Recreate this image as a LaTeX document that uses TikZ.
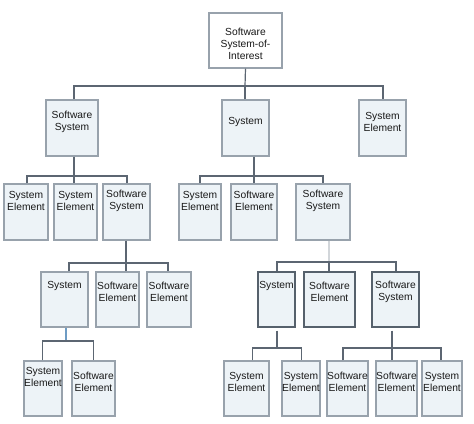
\documentclass[tikz,border=0pt]{standalone}
\usepackage{fontspec}
\setmainfont{Liberation Sans}
\definecolor{boxline}{HTML}{98A2AC}
\definecolor{darkline}{HTML}{56616C}
\definecolor{boxfill}{HTML}{EDF3F7}
\definecolor{conn}{HTML}{5C6672}
\definecolor{faint}{HTML}{D2D6DA}
\definecolor{bluish}{HTML}{6E9CC4}
\begin{document}
\begin{tikzpicture}[x=0.75pt,y=-0.75pt,
  box/.style={draw=boxline,line width=0.8pt,fill=boxfill,rectangle,inner sep=0pt},
  rootbox/.style={box,fill=white},
  darkbox/.style={box,draw=darkline,line width=0.9pt},
  txt/.style={font=\fontsize{7.7pt}{9pt}\selectfont,align=center,inner sep=0pt,text=black!90},
  conn/.style={draw=conn,line width=0.9pt}]
\useasboundingbox (0,0) rectangle (474,424);
\newcommand{\bx}[8]{% style, name, cx, cy, w, h, yoff, text
  \node[#1,minimum width={#5*0.75pt},minimum height={#6*0.75pt},
    label={[txt,yshift={-(#7)*0.75pt}]center:#8}] (#2) at (#3,#4) {};}
% root
\bx{rootbox}{root}{245.5}{40.5}{73}{55}{3}{Software\\System-of-\\Interest}
% level 1
\bx{box}{ssa}{72}{128}{52}{56}{-6}{Software\\System}
\bx{box}{sysa}{245.5}{128}{47}{56}{-6}{System}
\bx{box}{sea}{382.5}{128}{47}{56}{-6}{System\\Element}
% level 2
\bx{box}{seb}{26}{212}{44}{56}{-11}{System\\Element}
\bx{box}{sec}{75.5}{212}{43}{56}{-11}{System\\Element}
\bx{box}{ssb}{126.5}{212}{47}{56}{-11}{Software\\System}
\bx{box}{sed}{200}{212}{42}{56}{-11}{System\\Element}
\bx{box}{swa}{254}{212}{46}{56}{-11}{Software\\Element}
\bx{box}{ssc}{323}{212}{54}{56}{-11}{Software\\System}
% level 3
\bx{box}{sysb}{64.5}{299.5}{47}{55}{-13.5}{System}
\bx{box}{swb}{117.5}{299.5}{43}{55}{-7.5}{Software\\Element}
\bx{box}{swc}{169}{299.5}{44}{55}{-7.5}{Software\\Element}
\bx{darkbox}{sysc}{276.5}{299.5}{37}{55}{-13.5}{System}
\bx{darkbox}{swd}{329.5}{299.5}{51}{55}{-7.5}{Software\\Element}
\bx{darkbox}{ssd}{395.5}{299.5}{47}{55}{-7.5}{Software\\System}
% level 4
\bx{box}{see}{43}{388.5}{38}{55}{-11.5}{System\\Element}
\bx{box}{swe}{93.5}{388.5}{43}{55}{-7}{Software\\Element}
\bx{box}{sef}{246.5}{388.5}{45}{55}{-7}{System\\Element}
\bx{box}{seg}{301}{388.5}{38}{55}{-7}{System\\Element}
\bx{box}{swf}{347.5}{388.5}{41}{55}{-7}{Software\\Element}
\bx{box}{swg}{396.5}{388.5}{41}{55}{-7}{Software\\Element}
\bx{box}{seh}{442}{388.5}{40}{55}{-7}{System\\Element}
% bar coordinates (junction of each stem with its bar)
\coordinate (b0) at (245,86);
\coordinate (b1) at (74,176);
\coordinate (b2) at (254,176);
\coordinate (b3) at (126,263);
\coordinate (b4) at (329,262);
\coordinate (b5) at (66,341);
\coordinate (b6) at (277,348);
\coordinate (b7) at (392,348);
% drop points on the bars
\coordinate (d0a) at (74,86);  \coordinate (d0c) at (383,86);
\coordinate (d1a) at (27,176); \coordinate (d1c) at (127,176);
\coordinate (d2a) at (200,176); \coordinate (d2c) at (323,176);
\coordinate (d3a) at (69,263); \coordinate (d3c) at (168,263);
\coordinate (d4a) at (277,262); \coordinate (d4c) at (396,262);
\coordinate (d5a) at (42.5,341); \coordinate (d5c) at (93.5,341);
\coordinate (d6a) at (252.5,348); \coordinate (d6c) at (301.5,348);
\coordinate (d7a) at (343,348); \coordinate (d7c) at (441,348);
% connectors
\draw[conn] (root.south) -- (b0);
\draw[conn] (d0a |- ssa.north) -- (d0a) -- (d0c) -- (d0c |- sea.north);
\draw[conn] (b0 |- sysa.north) -- (b0);

\draw[conn] (b1 |- ssa.south) -- (b1 |- sec.north);
\draw[conn] (d1a |- seb.north) -- (d1a) -- (d1c) -- (d1c |- ssb.north);

\draw[conn] (b2 |- sysa.south) -- (b2 |- swa.north);
\draw[conn] (d2a |- sed.north) -- (d2a) -- (d2c) -- (d2c |- ssc.north);

\draw[conn] (b3 |- ssb.south) -- (b3 |- swb.north);
\draw[conn] (d3a |- sysb.north) -- (d3a) -- (d3c) -- (d3c |- swc.north);

\draw[conn,draw=faint] (b4 |- ssc.south) -- (b4);
\draw[conn] (b4) -- (b4 |- swd.north);
\draw[conn] (d4a |- sysc.north) -- (d4a) -- (d4c) -- (d4c |- ssd.north);

\draw[conn,draw=bluish] (b5 |- sysb.south) -- (b5);
\draw[conn] (d5a |- see.north) -- (d5a) -- (d5c) -- (d5c |- swe.north);

\draw[conn] ([yshift={-3*0.75pt}]b6 |- sysc.south) -- (b6);
\draw[conn] (d6a |- sef.north) -- (d6a) -- (d6c) -- (d6c |- seg.north);

\draw[conn] ([yshift={-3*0.75pt}]b7 |- ssd.south) -- (b7 |- swg.north);
\draw[conn] (d7a |- swf.north) -- (d7a) -- (d7c) -- (d7c |- seh.north);
\end{tikzpicture}
\end{document}
